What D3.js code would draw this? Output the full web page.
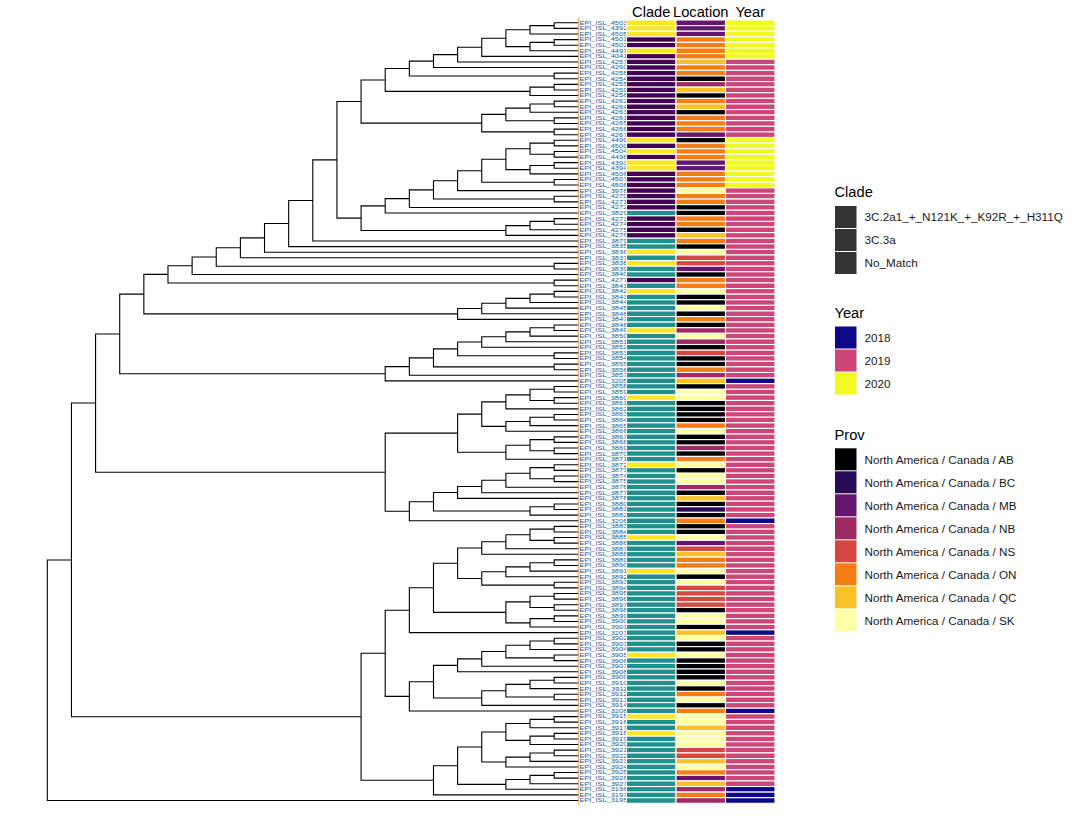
<!DOCTYPE html>
<html><head><meta charset="utf-8">
<script src="https://cdn.jsdelivr.net/npm/d3@7"></script>
<style>
body{margin:0;background:#fff}
svg{display:block}
text{font-family:"Liberation Sans",Arial,sans-serif}
</style>
</head><body>
<svg id="chart" width="1090" height="818"></svg>
<script>
// ---------- data ----------
const tipIds = [
"4503","4392","4505","4501","4502","4497","4041","4257","4260","4258",
"4254","4255","4259","4256","4262","4264","4263","4261","4265","4266",
"4267","4499","4500","4504","4498","4393","4394","4506","4507","4508",
"3978","4270","4271","4272","3829","4273","4274","4275","4276","3879",
"3835","3836","3837","3838","3839","3840","4277","3841","3842","3843",
"3844","3845","3846","3847","3848","3849","3850","3851","3852","3853",
"3854","3855","3856","3857","3205","3858","3859","3860","3861","3862",
"3863","3864","3865","3866","3867","3868","3869","3870","3871","3872",
"3873","3874","3875","3876","3877","3878","3880","3881","3882","3206",
"3883","3884","3885","3886","3887","3888","3889","3890","3891","3892",
"3893","3894","3895","3896","3897","3898","3899","3900","3901","3207",
"3902","3903","3904","3905","3906","3907","3908","3909","3910","3911",
"3912","3913","3914","3208","3915","3916","3917","3918","3919","3920",
"3921","3922","3923","3924","3925","3926","3927","3196","3197","3195"
];

const cladeCategories = ["3C.2a1_+_N121K_+_K92R_+_H311Q","3C.3a","No_Match"];
const cladeColors = ["#440154","#21908C","#FDE725"];
const cladeIdx = [
2,2,2,0,0,2,0,0,0,0, 0,0,0,0,0,0,0,0,0,0,
0,2,0,2,0,2,2,0,0,0, 0,0,0,0,1,0,0,0,0,1,
1,2,1,2,1,1,0,1,2,1, 1,1,1,1,1,2,1,1,1,1,
1,1,1,1,1,1,1,2,1,1, 1,1,1,1,1,1,1,1,1,2,
1,1,1,1,1,1,1,1,1,1, 1,1,2,1,1,1,1,1,2,1,
1,1,1,1,1,1,1,1,1,1, 1,1,1,2,1,1,1,1,1,1,
1,1,1,1,2,1,1,2,1,1, 1,1,1,1,1,1,1,1,1,1
];

const provCategories = [
"North America / Canada / AB","North America / Canada / BC","North America / Canada / MB",
"North America / Canada / NB","North America / Canada / NS","North America / Canada / ON",
"North America / Canada / QC","North America / Canada / SK"];
const provColors = ["#000004","#280B54","#65156E","#9F2A63","#D44842","#F57D15","#FAC127","#FCFFA4"];
const provIdx = [
2,2,2,5,5,5,5,6,5,5, 0,3,6,0,5,6,0,5,5,5,
2,0,5,5,5,2,2,5,5,5, 7,5,5,0,0,5,5,0,6,5,
0,7,4,4,2,0,5,5,7,0, 0,7,0,5,0,3,7,3,0,4,
0,0,5,3,6,0,7,7,0,0, 0,0,5,7,0,0,3,0,5,7,
0,7,7,3,0,6,0,1,0,5, 0,0,7,2,4,6,5,5,7,0,
7,4,4,4,4,0,7,7,0,6, 7,0,0,7,0,0,0,0,7,0,
5,7,0,5,7,7,6,7,7,7, 4,4,6,7,5,2,6,3,5,3
];

const yearCategories = ["2018","2019","2020"];
const yearColors = ["#0D0887","#CC4678","#F0F921"];
const yearVals = [
2020,2020,2020,2020,2020,2020,2020,2019,2019,2019, 2019,2019,2019,2019,2019,2019,2019,2019,2019,2019,
2019,2020,2020,2020,2020,2020,2020,2020,2020,2020, 2019,2019,2019,2019,2019,2019,2019,2019,2019,2019,
2019,2019,2019,2019,2019,2019,2019,2019,2019,2019, 2019,2019,2019,2019,2019,2019,2019,2019,2019,2019,
2019,2019,2019,2019,2018,2019,2019,2019,2019,2019, 2019,2019,2019,2019,2019,2019,2019,2019,2019,2019,
2019,2019,2019,2019,2019,2019,2019,2019,2019,2018, 2019,2019,2019,2019,2019,2019,2019,2019,2019,2019,
2019,2019,2019,2019,2019,2019,2019,2019,2019,2018, 2019,2019,2019,2019,2019,2019,2019,2019,2019,2019,
2019,2019,2019,2018,2019,2019,2019,2019,2019,2019, 2019,2019,2019,2019,2019,2019,2019,2018,2018,2018
];

const heatColumns = ["Clade","Location","Year"];

// tree topology (tips are row numbers, top to bottom)
const subA = [[[[[[[[[1,2],3],[[4,5],6]],7],8],9],[10,11]],[[12,13],14]],[[[[15,16],17],[18,19]],[20,21]]];
const subB = [[[[[[[[[22,23],[24,25]],[[26,27],28]],[29,30]],31],[32,33]],34],35],[[[36,37],38],39]];
const subX = [[[[[49,50],51],52],53],54];
const subY = [[[[[[[[55,56],57],58],59],[60,61]],[62,63]],64],65];
const subZ5 = [[[[[66,67],[68,69]],70],[[[71,72],73],74]],[[[75,76],[77,78]],79]];
const subZ7 = [[[[[[[80,81],[82,83]],84],85],86],[[87,88],89]],90];
const subZ = [subZ5, subZ7];
const subW1 = [[[[[[91,92],[93,94]],95],96],[[[[97,98],99],100],[101,102]]],[[[103,104],[105,106]],[[107,108],109]]];
const subW2 = [[[[[111,112],113],[114,115]],116],117];
const subW3 = [[[[118,119],120],[121,122]],123];
const subW6 = [[[[[[125,126],127],[[128,129],130]],[[[131,132],133],134]],[[[135,136],137],138]],139];
const subW = [[[subW1,110],[[subW2,subW3],124]], subW6];
let backbone = [subA, subB];
[40, 41, 42, 43, [44,45], 46, [47,48], subX, subY, subZ, subW, 140].forEach(s => { backbone = [backbone, s]; });

// ---------- drawing ----------
const svg = d3.select("#chart");
const rows = d3.range(1, tipIds.length + 1);
const y = d3.scaleBand().domain(rows).range([20, 803.3]);
const bw = y.bandwidth();

const root = d3.hierarchy(backbone, d => Array.isArray(d) ? d : null);
const x = d3.scaleLinear().domain([root.height, 0]).range([47.3, 578.3]);
root.eachAfter(n => {
  n.px = x(n.height);
  n.py = n.children ? (n.children[0].py + n.children[n.children.length - 1].py) / 2
                    : y(n.data) + bw / 2;
});

const path = d3.path();
root.descendants().forEach(n => {
  if (n.parent) { path.moveTo(n.parent.px, n.py); path.lineTo(n.px, n.py); }
  if (n.children) {
    path.moveTo(n.px, n.children[0].py);
    path.lineTo(n.px, n.children[n.children.length - 1].py);
  }
});
svg.append("path").attr("d", path.toString())
  .attr("fill", "none").attr("stroke", "#000").attr("stroke-width", 1.1)
  .attr("stroke-linecap", "square");

// tip labels
svg.append("line").attr("x1", 578.3).attr("x2", 578.3).attr("y1", 18).attr("y2", 805)
  .attr("stroke", "#f4a24a").attr("stroke-width", 1);
svg.append("g").selectAll("text").data(root.leaves()).join("text")
  .attr("x", 579.3).attr("y", d => d.py + 1.9)
  .attr("font-size", 4.9)
  .attr("textLength", 48).attr("lengthAdjust", "spacingAndGlyphs")
  .attr("fill", "#2b5797")
  .text(d => "EPI_ISL_" + tipIds[d.data - 1]);

// heatmap
const col = d3.scaleBand().domain(heatColumns).range([626.5, 775]);
const cellFill = {
  Clade: r => cladeColors[cladeIdx[r - 1]],
  Location: r => provColors[provIdx[r - 1]],
  Year: r => yearColors[yearCategories.indexOf(String(yearVals[r - 1]))]
};
const hm = svg.append("g");
heatColumns.forEach(c => {
  hm.append("g").selectAll("rect").data(rows).join("rect")
    .attr("x", col(c)).attr("width", col.bandwidth())
    .attr("y", r => y(r)).attr("height", bw)
    .attr("fill", r => cellFill[c](r))
    .attr("stroke", "#fff").attr("stroke-width", 1.1);
});
svg.append("g").selectAll("text").data(heatColumns).join("text")
  .attr("x", c => col(c) + col.bandwidth() / 2).attr("y", 17)
  .attr("text-anchor", "middle").attr("font-size", 14.7).attr("fill", "#000")
  .text(c => c);

// legends
function legend(title, labels, colors, titleY, keyTop) {
  const lg = svg.append("g");
  lg.append("text").attr("x", 834.5).attr("y", titleY)
    .attr("font-size", 14.7).attr("fill", "#000").text(title);
  labels.forEach((lab, i) => {
    const top = keyTop + i * 23;
    lg.append("rect").attr("x", 835).attr("y", top).attr("width", 21.5).attr("height", 22)
      .attr("fill", colors[i]);
    lg.append("text").attr("x", 864.5).attr("y", top + 11).attr("dy", "0.36em")
      .attr("font-size", 11.7).attr("fill", "#1a1a1a").text(lab);
  });
}
legend("Clade", cladeCategories, cladeCategories.map(() => "#333333"), 197, 206);
legend("Year", yearCategories, yearColors, 318, 326.5);
legend("Prov", provCategories, provColors, 440, 448.3);
</script>
</body></html>
